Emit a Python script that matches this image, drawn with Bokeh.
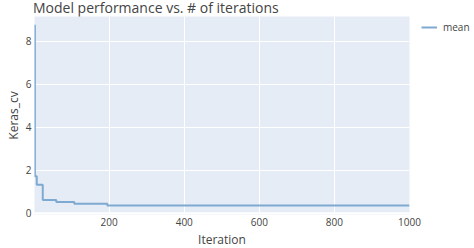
from bokeh.plotting import figure
from bokeh.models import Range1d, FixedTicker, Span, Legend, LegendItem, Div
from bokeh.layouts import column
from bokeh.embed import file_html
from bokeh.resources import INLINE

iterations = [1, 2, 7, 23, 59, 107, 195, 1000]
mean_values = [8.75, 1.72, 1.32, 0.62, 0.52, 0.44, 0.36, 0.36]
x_ticks = [200, 400, 600, 800, 1000]
y_ticks = [0, 2, 4, 6, 8]
title_text = "Model performance vs. # of iterations"

FONT = "Open Sans"
title = Div(text=title_text, width=474, height=16, margin=(0, 0, 0, 0),
            styles={"font-family": FONT, "font-size": "14px", "color": "#444444",
                    "line-height": "16px", "padding-left": "33px", "white-space": "nowrap"})

p = figure(width=474, height=232, output_backend="svg", toolbar_location=None,
           title_location=None, margin=(0, 0, 0, 0),
           x_range=Range1d(1, 1000), y_range=Range1d(-0.06, 9.16),
           frame_width=375, frame_height=198,
           min_border_left=34, min_border_right=65, min_border_top=0, min_border_bottom=34)
p.background_fill_color = "#E5ECF6"
p.border_fill_color = "white"
p.outline_line_color = None

for ax in (p.xaxis[0], p.yaxis[0]):
    ax.axis_line_color = None
    ax.major_tick_line_color = None
    ax.minor_tick_line_color = None
    ax.major_tick_out = 0
    ax.major_tick_in = 0
    ax.minor_tick_out = 0
    ax.minor_tick_in = 0
    ax.major_label_text_font = FONT
    ax.major_label_text_font_size = "10px"
    ax.major_label_text_color = "#444444"
    ax.axis_label_text_font = FONT
    ax.axis_label_text_font_size = "12px"
    ax.axis_label_text_font_style = "normal"
    ax.axis_label_text_color = "#444444"

p.xaxis.ticker = FixedTicker(ticks=x_ticks)
p.yaxis.ticker = FixedTicker(ticks=y_ticks)
p.xaxis.axis_label = "Iteration"
p.yaxis.axis_label = "Keras_cv"
p.xaxis.major_label_standoff = 3
p.xaxis.axis_label_standoff = 2
p.yaxis.major_label_standoff = 3
p.yaxis.axis_label_standoff = 1

p.xgrid.grid_line_color = "white"
p.ygrid.grid_line_color = "white"
p.xgrid.grid_line_width = 1
p.ygrid.grid_line_width = 1
p.add_layout(Span(location=0, dimension="width", line_color="white", line_width=2))

r = p.step(iterations, mean_values, mode="after", line_color="#7EA9D1", line_width=2)

legend = Legend(items=[LegendItem(label="mean", renderers=[r])], location=(12, 180),
                border_line_color=None, background_fill_alpha=0,
                label_text_font=FONT, label_text_font_size="10px", label_text_color="#444444",
                glyph_width=16, glyph_height=10, label_standoff=6, padding=0, margin=0,
                spacing=0)
p.add_layout(legend, "right")

layout = column(title, p, spacing=0, margin=(0, 0, 0, 0))
open("out.html", "w").write(file_html(layout, INLINE))
